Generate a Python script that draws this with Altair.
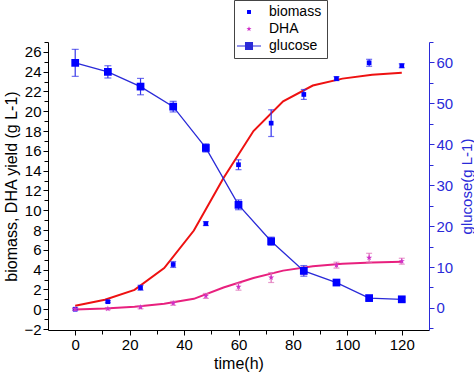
import re
import altair as alt
import pandas as pd

# ---------------- data ----------------
time = [0, 12, 24, 36, 48, 60, 72, 84, 96, 108, 120]
biomass = [0.0, 0.76, 2.17, 4.52, 8.65, 14.6, 18.8, 21.7, 23.3, 24.9, 24.6]
biomass_err = [0.1, 0.1, 0.25, 0.3, 0.2, 0.5, 1.35, 0.5, 0.2, 0.35, 0.2]
dha = [0.0, 0.05, 0.2, 0.6, 1.34, 2.27, 3.2, 3.9, 4.45, 5.2, 4.85]
dha_err = [0.1, 0.1, 0.15, 0.2, 0.25, 0.35, 0.5, 0.4, 0.3, 0.45, 0.3]
glucose = [59.9, 57.7, 54.1, 49.2, 39.1, 25.2, 16.3, 9.05, 6.2, 2.4, 2.1]
glucose_err = [3.3, 1.5, 2.0, 1.3, 1.0, 1.2, 1.0, 1.3, 0.6, 0.5, 0.5]

fit_time = [0, 10.9, 21.8, 32.7, 43.6, 54.5, 65.5, 76.4, 87.3, 98.2, 109.1, 120]
biomass_fit = [0.36, 0.95, 1.95, 4.15, 7.95, 13.25, 18.0, 21.0, 22.6, 23.3, 23.7, 23.9]
dha_fit = [-0.02, 0.08, 0.25, 0.55, 1.05, 2.2, 3.15, 3.9, 4.35, 4.6, 4.72, 4.8]

series = ["biomass", "DHA", "glucose"]

# ---------------- tables ----------------
pts = pd.DataFrame({
    "time": time,
    "biomass": biomass,
    "b_lo": [v - e for v, e in zip(biomass, biomass_err)],
    "b_hi": [v + e for v, e in zip(biomass, biomass_err)],
    "dha": dha,
    "d_lo": [v - e for v, e in zip(dha, dha_err)],
    "d_hi": [v + e for v, e in zip(dha, dha_err)],
    "glucose": glucose,
    "g_lo": [v - e for v, e in zip(glucose, glucose_err)],
    "g_hi": [v + e for v, e in zip(glucose, glucose_err)],
})
fit = pd.DataFrame({"time": fit_time, "biomass_fit": biomass_fit, "dha_fit": dha_fit})
leg = pd.DataFrame({"series": series})

FONT = "Liberation Sans"
BLUE = "#0000FF"
GLU = "#2A2AD8"
RED = "#EE1111"
PINK = "#E8207E"
MAG = "#D030C8"

xscale = alt.Scale(domain=[-10, 130], nice=False, zero=False)
xaxis = alt.Axis(
    title="time(h)", values=list(range(0, 121, 10)),
    labelExpr="datum.value % 20 === 0 ? datum.label : ''",
    tickSize={"condition": {"test": "datum.value % 20 === 0", "value": 5}, "value": 4},
    grid=False, labelFontSize=15, titleFontSize=16, labelPadding=2, titlePadding=3,
    domainColor="black", tickColor="black", labelColor="black", titleColor="black",
    titleFontWeight="normal", labelFont=FONT, titleFont=FONT, labelFlush=False,
)
X = alt.X("time:Q", scale=xscale, axis=xaxis)

lscale = alt.Scale(domain=[-2.1, 27], nice=False, zero=False)
laxis = alt.Axis(
    title="biomass, DHA yield (g L-1)", orient="left", values=list(range(-2, 28)),
    labelExpr="datum.value % 2 === 0 ? datum.label : ''",
    tickSize={"condition": {"test": "datum.value % 2 === 0", "value": 5}, "value": 4},
    grid=False, labelFontSize=15, titleFontSize=16, labelPadding=2, titlePadding=4,
    domainColor="black", tickColor="black", labelColor="black", titleColor="black",
    titleFontWeight="normal", labelFont=FONT, titleFont=FONT, labelFlush=False,
)

rscale = alt.Scale(domain=[-5.4, 65], nice=False, zero=False)
raxis = alt.Axis(
    title="glucose(g L-1)", orient="right", values=list(range(-5, 66, 5)),
    labelExpr="datum.value % 10 === 0 ? datum.label : ''",
    tickSize={"condition": {"test": "datum.value % 10 === 0", "value": 5}, "value": 4},
    grid=False, labelFontSize=15, titleFontSize=15, labelPadding=2, titlePadding=7,
    titleAngle=270, titleBaseline="top",
    domainColor=GLU, tickColor=GLU, labelColor=GLU, titleColor=GLU,
    titleFontWeight="normal", labelFont=FONT, titleFont=FONT, labelFlush=False,
)


def LY(field):
    return alt.Y(f"{field}:Q", scale=lscale, axis=laxis)


def RY(field):
    return alt.Y(f"{field}:Q", scale=rscale, axis=raxis)


base = alt.Chart(pts)
fbase = alt.Chart(fit)

red_line = fbase.mark_line(color=RED, strokeWidth=2).encode(x=X, y=LY("biomass_fit"))
pink_line = fbase.mark_line(color=PINK, strokeWidth=2).encode(x=X, y=LY("dha_fit"))

b_rule = base.mark_rule(color="#3030F0", strokeWidth=1.2).encode(x=X, y=LY("b_lo"), y2="b_hi")
b_tlo = base.mark_tick(color="#3030F0", orient="horizontal", size=6, thickness=1.2).encode(x=X, y=LY("b_lo"))
b_thi = base.mark_tick(color="#3030F0", orient="horizontal", size=6, thickness=1.2).encode(x=X, y=LY("b_hi"))
b_pts = base.mark_point(shape="square", filled=True, size=22, color=BLUE, opacity=1).encode(x=X, y=LY("biomass"))

STAR = "M0,-1L0.235,-0.324L0.951,-0.309L0.38,0.124L0.588,0.809L0,0.4L-0.588,0.809L-0.38,0.124L-0.951,-0.309L-0.235,-0.324Z"
d_rule = base.mark_rule(color="#E070B8", strokeWidth=1.2).encode(x=X, y=LY("d_lo"), y2="d_hi")
d_tlo = base.mark_tick(color="#E070B8", orient="horizontal", size=6, thickness=1.2).encode(x=X, y=LY("d_lo"))
d_thi = base.mark_tick(color="#E070B8", orient="horizontal", size=6, thickness=1.2).encode(x=X, y=LY("d_hi"))
d_pts = base.mark_point(shape=STAR, filled=True, size=40, color=MAG, opacity=1).encode(x=X, y=LY("dha"))


def _scale_path(path, f):
    return re.sub(r"-?\d+\.?\d*", lambda m: f"{float(m.group()) * f:.3f}", path)


# legend symbols (drawn off-canvas; only the legend is visible)
p = 0.33
S_SQ = f"M-{p},-{p}H{p}V{p}H-{p}Z"
S_ST = _scale_path(STAR, 0.45)
S_GL = "M-2,-0.09H-0.67V0.09H-2Z M0.67,-0.09H2V0.09H0.67Z M-0.67,-0.67H0.67V0.67H-0.67Z"

legend = alt.Legend(
    title=None, orient="none", legendX=186, legendY=-42, padding=5,
    fillColor="white", strokeColor="#444444", labelFont=FONT, labelFontSize=14,
    labelColor="black", labelOffset=13, rowPadding=3, symbolSize=144,
    symbolStrokeWidth=0, symbolOffset=3,
)
leg_layer = alt.Chart(leg).mark_point(filled=True, size=144, opacity=1).encode(
    x=alt.value(-1000), y=alt.value(-1000),
    color=alt.Color("series:N", scale=alt.Scale(domain=series, range=[BLUE, MAG, GLU]), legend=legend),
    shape=alt.Shape("series:N", scale=alt.Scale(domain=series, range=[S_SQ, S_ST, S_GL]), legend=legend),
)

left = alt.layer(red_line, pink_line, b_rule, b_tlo, b_thi, b_pts, d_rule, d_tlo, d_thi, d_pts, leg_layer)

g_line = base.mark_line(color=GLU, strokeWidth=1.3).encode(x=X, y=RY("glucose"))
g_rule = base.mark_rule(color="#3535E8", strokeWidth=1.2).encode(x=X, y=RY("g_lo"), y2="g_hi")
g_tlo = base.mark_tick(color="#3535E8", orient="horizontal", size=7, thickness=1.2).encode(x=X, y=RY("g_lo"))
g_thi = base.mark_tick(color="#3535E8", orient="horizontal", size=7, thickness=1.2).encode(x=X, y=RY("g_hi"))
g_pts = base.mark_point(shape="square", filled=True, size=60, color=BLUE, opacity=1).encode(x=X, y=RY("glucose"))

right = alt.layer(g_line, g_rule, g_tlo, g_thi, g_pts)

chart = (
    alt.layer(left, right)
    .resolve_scale(y="independent")
    .properties(
        width=381, height=288,
        autosize=alt.AutoSizeParams(type="none"),
        padding={"left": 48, "top": 42, "right": 45, "bottom": 45},
        background="white",
    )
    .configure_view(stroke="transparent")
)

chart.save("out.html", embed_options={"renderer": "svg", "actions": False})
